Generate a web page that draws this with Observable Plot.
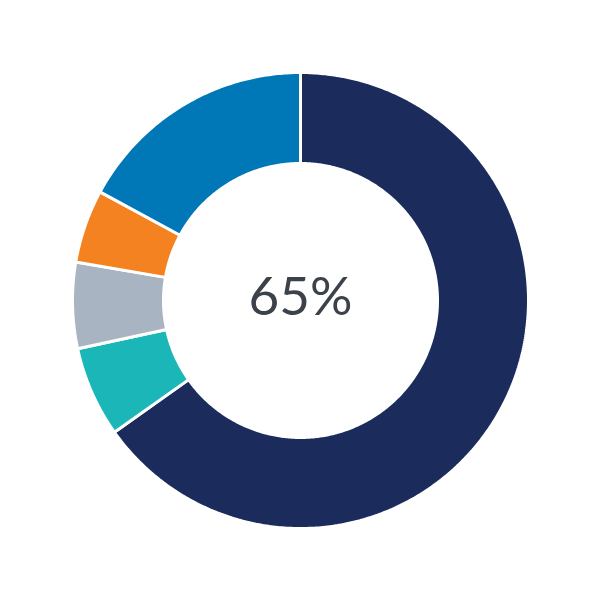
<!DOCTYPE html>
<html>
<head>
<meta charset="utf-8">
<script src="https://cdn.jsdelivr.net/npm/d3@7"></script>
<script src="https://cdn.jsdelivr.net/npm/@observablehq/plot@0.6"></script>
<style>
  html, body { margin: 0; padding: 0; background: #fff; }
</style>
</head>
<body>
<div id="chart"></div>
<script>
const categories = ["A", "B", "C", "D", "E"];
const values = [65.2, 6.4, 6.1, 5.2, 17.1];
const colors = ["#1b2b5b", "#1ab6b8", "#a9b4c3", "#f58220", "#0077b6"];
const centerLabel = "65%";

const R = 228, r = 137;
const total = d3.sum(values);
const pts = [];
let acc = 0;
values.forEach((v, i) => {
  const a0 = acc / total * 2 * Math.PI;
  acc += v;
  const a1 = acc / total * 2 * Math.PI;
  const n = Math.max(8, Math.ceil((a1 - a0) / 0.01));
  const ring = [];
  for (let k = 0; k <= n; k++) {
    const a = a0 + (a1 - a0) * k / n;
    ring.push({x: R * Math.sin(a), y: R * Math.cos(a)});
  }
  for (let k = n; k >= 0; k--) {
    const a = a0 + (a1 - a0) * k / n;
    ring.push({x: r * Math.sin(a), y: r * Math.cos(a)});
  }
  ring.push(ring[0]);
  ring.forEach(p => pts.push({...p, cat: categories[i]}));
});

const chart = Plot.plot({
  width: 600,
  height: 600,
  margin: 0,
  x: {domain: [-300, 300], axis: null},
  y: {domain: [-300, 300], axis: null},
  color: {domain: categories, range: colors},
  style: {fontFamily: "Lato, sans-serif", background: "#fff"},
  marks: [
    Plot.line(pts, {x: "x", y: "y", z: "cat", fill: "cat", stroke: "#fff", strokeWidth: 3, strokeLinejoin: "miter"}),
    Plot.text([centerLabel], {x: () => 0, y: () => 0, text: d => d, fontSize: 53, fill: "#3c4249", dy: -2, fontWeight: 400})
  ]
});
document.getElementById("chart").appendChild(chart);
</script>
</body>
</html>
